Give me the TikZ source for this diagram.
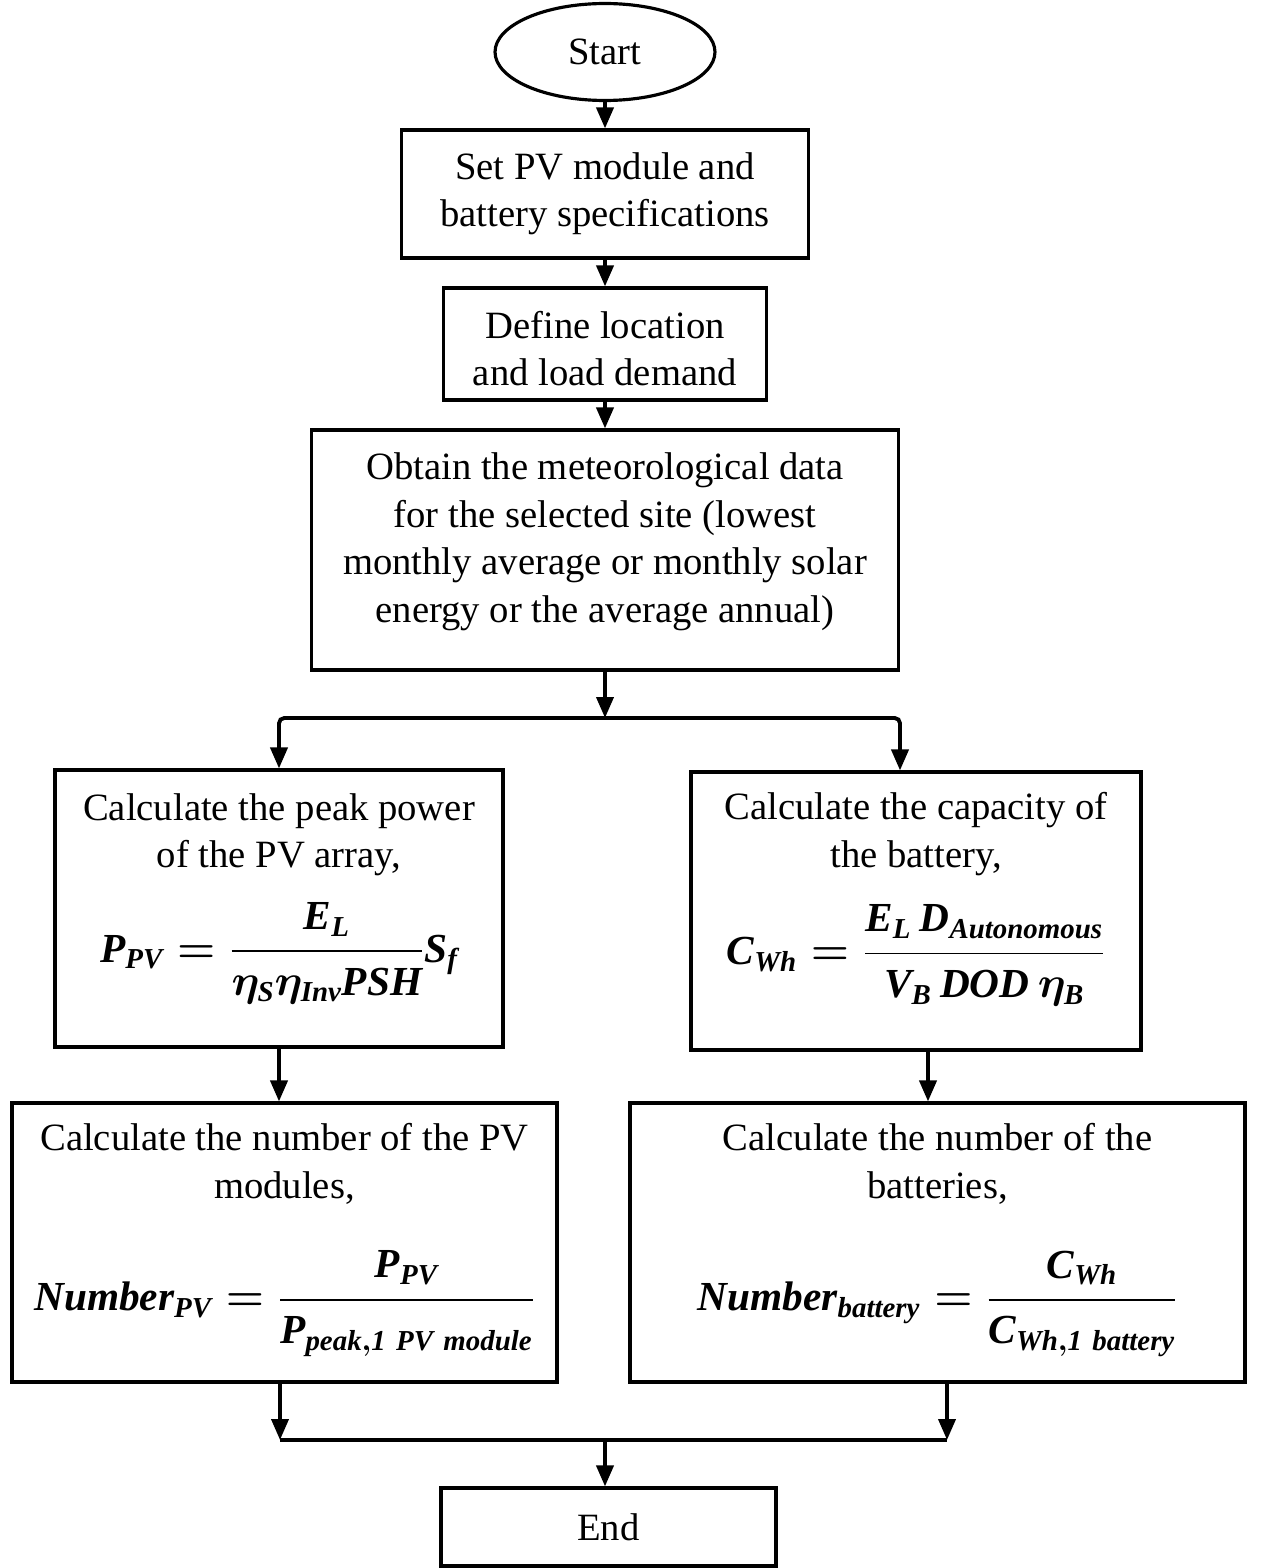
\documentclass[tikz,border=0pt]{standalone}
\usepackage{amsmath}
\usepackage{fontspec}
\setmainfont{Liberation Serif}
\usetikzlibrary{arrows.meta,shapes.geometric}
\newcommand{\eqsize}{\fontsize{23.5}{27}\selectfont}

\begin{document}
\begin{tikzpicture}[x=0.02cm, y=-0.02cm,
term/.style={ellipse, draw=black, line width=1.8pt, minimum width=4.4cm, minimum height=1.94cm, inner sep=0pt, font=\fontsize{22}{27}\selectfont},
stage/.style={rectangle, draw=black, line width=1.8pt, align=center, inner sep=0pt, font=\fontsize{22}{27}\selectfont\boldmath},
flow/.style={line width=2.2pt, -{Triangle[length=0.42cm, width=0.34cm]}},
link/.style={line width=2.2pt}
]
\useasboundingbox (0,0) rectangle (1280,1568);
\node[term] (start) at (605,52) {Start};
\node[stage, minimum width=8.14cm, minimum height=2.56cm] (setspec) at (605,194) {Set PV module and\\battery specifications};
\node[stage, minimum width=6.46cm, minimum height=2.24cm] (location) at (605,344) {\mbox{}\\[-6pt]Define location\\and load demand};
\node[stage, minimum width=11.74cm, minimum height=4.8cm] (meteo) at (605,550) {Obtain the meteorological data\\for the selected site (lowest\\monthly average or monthly solar\\energy or the average annual)\\[-13pt]\mbox{}};
\node[stage, minimum width=8.96cm, minimum height=5.54cm] (peak) at (279,908.5) {Calculate the peak power\\of the PV array,\\[0.5cm]{\eqsize$\mathit{P_{PV}=\dfrac{E_L}{\eta_S\eta_{Inv}PSH}S_f}$}\\[8pt]\mbox{}};
\node[stage, minimum width=9cm, minimum height=5.56cm] (capacity) at (916,911) {Calculate the capacity of\\the battery,\\[0.55cm]{\eqsize$\mathit{C_{Wh}=\dfrac{E_L\,D_{Autonomous}}{V_B\,DOD\,\eta_B}}$}\\[10pt]\mbox{}};
\node[stage, minimum width=10.9cm, minimum height=5.58cm] (numpv) at (284.5,1242.5) {Calculate the number of the PV\\modules,\\[0.9cm]{\eqsize$\mathit{Number_{PV}=\dfrac{P_{PV}}{P_{peak,1\ PV\ module}}}$}\\[2pt]\mbox{}};
\node[stage, minimum width=12.3cm, minimum height=5.58cm] (numbat) at (937.5,1242.5) {Calculate the number of the\\batteries,\\[0.9cm]{\eqsize$\mathit{Number_{battery}=\dfrac{C_{Wh}}{C_{Wh,1\ battery}}}$}\\[2pt]\mbox{}};
\node[stage, minimum width=6.7cm, minimum height=1.56cm] (finish) at (608.5,1527) {End};
\coordinate (fork) at (605,718);
\coordinate (forkR) at (900,718);
\coordinate (joinL) at (280,1440);
\coordinate (joinR) at (947,1440);
\coordinate (join) at (605,1440);
\draw[flow] (start) -- (setspec);
\draw[flow] (setspec) -- (location);
\draw[flow] (location) -- (meteo);
\draw[flow] (meteo) -- (fork);
\draw[flow, rounded corners=3pt] (fork) -| (peak.north);
\draw[flow, rounded corners=3pt] (fork) -| (forkR |- capacity.north);
\draw[flow] (peak.south) -- (peak.south |- numpv.north);
\draw[flow] ([xshift=0.24cm]capacity.south) -- ([xshift=0.24cm]capacity.south |- numbat.north);
\draw[flow] (numpv.south -| joinL) -- (joinL);
\draw[flow] (numbat.south -| joinR) -- (joinR);
\draw[link] (joinL) -- (joinR);
\draw[flow] (join) -- (join |- finish.north);
\end{tikzpicture}
\end{document}
